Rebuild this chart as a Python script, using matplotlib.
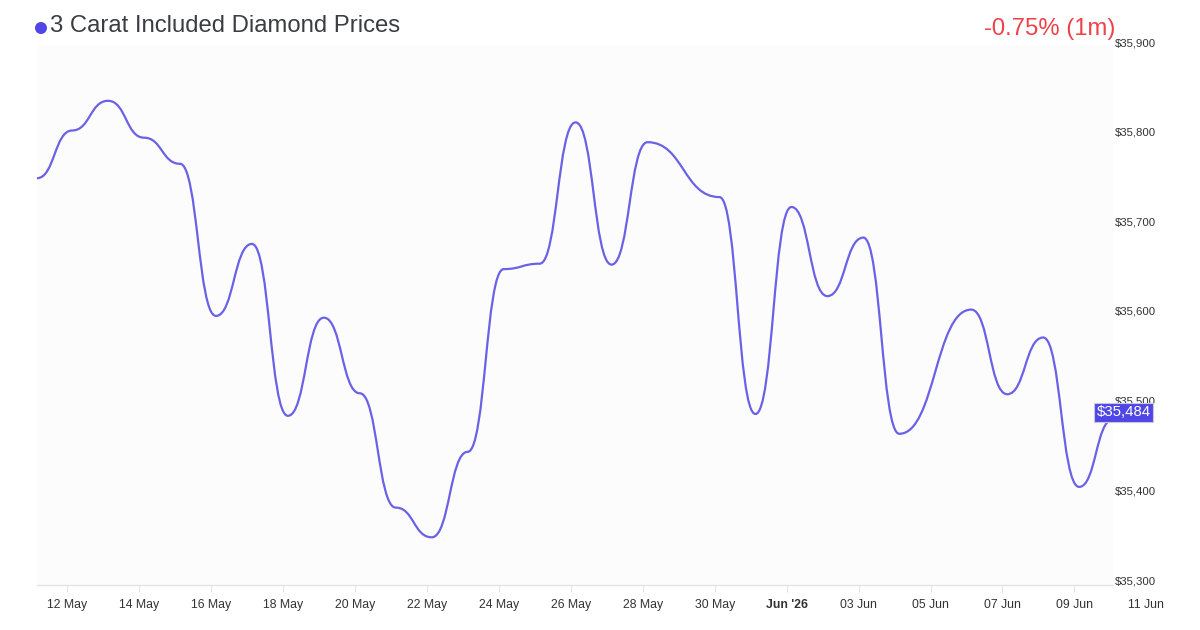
import numpy as np
import pandas as pd
import matplotlib
matplotlib.use("Agg")
import matplotlib.pyplot as plt
import matplotlib.dates as mdates
from matplotlib.path import Path
from matplotlib.patches import PathPatch, Ellipse

plt.rcParams['font.family'] = ['Liberation Sans', 'DejaVu Sans']

# ---- data ----
title = "3 Carat Included Diamond Prices"
change_text = "-0.75% (1m)"
dates = ["2026-05-11 03:45", "2026-05-12 03:10", "2026-05-13 03:10", "2026-05-14 03:10",
         "2026-05-15 03:10", "2026-05-16 03:10", "2026-05-17 03:10", "2026-05-18 03:10",
         "2026-05-19 03:10", "2026-05-20 03:10", "2026-05-21 03:10", "2026-05-22 03:10",
         "2026-05-23 03:10", "2026-05-24 03:10", "2026-05-25 03:10", "2026-05-26 03:10",
         "2026-05-27 03:10", "2026-05-28 03:10", "2026-05-30 03:10",
         "2026-05-31 03:10", "2026-06-01 03:10", "2026-06-02 03:10", "2026-06-03 03:10",
         "2026-06-04 03:10", "2026-06-06 03:10", "2026-06-07 03:10",
         "2026-06-08 03:10", "2026-06-09 03:10", "2026-06-10 01:40"]
prices = [35752, 35805, 35838, 35797, 35768, 35599, 35679, 35488, 35597, 35513,
          35386, 35353, 35448, 35651, 35657, 35814, 35656, 35792, 35731,
          35490, 35720, 35621, 35686, 35468, 35606, 35512, 35575, 35409,
          35484]
last_label = "$35,484"
y_ticks = [35300, 35400, 35500, 35600, 35700, 35800, 35900]
x_tick_dates = ["2026-05-12", "2026-05-14", "2026-05-16", "2026-05-18", "2026-05-20",
                "2026-05-22", "2026-05-24", "2026-05-26", "2026-05-28", "2026-05-30",
                "2026-06-01", "2026-06-03", "2026-06-05", "2026-06-07", "2026-06-09",
                "2026-06-11"]
x_tick_labels = ["12 May", "14 May", "16 May", "18 May", "20 May", "22 May", "24 May",
                 "26 May", "28 May", "30 May", "Jun '26", "03 Jun", "05 Jun", "07 Jun",
                 "09 Jun", "11 Jun"]

LINE = "#6a62e6"
DOT = "#4f46e5"

fig = plt.figure(figsize=(12, 6.3), dpi=100)
W, H = 1200, 630
ax = fig.add_axes([37 / W, 1 - 585 / H, (1113 - 37) / W, 540 / H])
ax.set_facecolor("#fcfcfc")

x = mdates.date2num(pd.to_datetime(dates))
y = np.array(prices, dtype=float)

# bump-x style curve: horizontal tangent at every point
verts = [(x[0], y[0])]
codes = [Path.MOVETO]
for i in range(len(x) - 1):
    xm = (x[i] + x[i + 1]) / 2
    verts += [(xm, y[i]), (xm, y[i + 1]), (x[i + 1], y[i + 1])]
    codes += [Path.CURVE4] * 3
ax.add_patch(PathPatch(Path(verts, codes), facecolor="none", edgecolor=LINE, lw=1.6, capstyle="round"))

ax.set_xlim(x[0], x[-1] + 0.004)
ax.set_ylim(y_ticks[0], y_ticks[-1])

for s in ["top", "left", "right"]:
    ax.spines[s].set_visible(False)
ax.spines["bottom"].set_color("#e3e3e3")
ax.spines["bottom"].set_linewidth(1.0)

# x ticks
tick_nums = mdates.date2num(pd.to_datetime(x_tick_dates))
ax.set_xticks(tick_nums[:-1])
ax.set_xticklabels(x_tick_labels[:-1])
ax.tick_params(axis="x", length=5, color="#e3e3e3", pad=5, labelsize=8.8, labelcolor="#333333")
for lab in ax.get_xticklabels():
    if lab.get_text() == "Jun '26":
        lab.set_fontweight("bold")
ax.text(tick_nums[-1], -14 / 540, x_tick_labels[-1], transform=ax.get_xaxis_transform(),
        ha="center", va="top", fontsize=8.8, color="#333333", clip_on=False)

# y labels on right
ax.set_yticks([])
for v in y_ticks:
    ypix = 581 - (v - y_ticks[0]) / (y_ticks[-1] - y_ticks[0]) * 538
    ax.text(1.0 + 2 / 1076, (585 - ypix) / 540, f"${v:,}",
            transform=ax.transAxes, ha="left", va="center",
            fontsize=8.2, color="#333333", clip_on=False, zorder=3)

# last value label
ax.text(1.0 + (1123.5 - 1113) / 1076, y[-1] + 8, last_label, transform=ax.get_yaxis_transform(),
        ha="center", va="center", fontsize=10.8, color="white", clip_on=False, zorder=6,
        bbox=dict(boxstyle="square,pad=0.18", facecolor=DOT, edgecolor="#c6c6dc", linewidth=0.8))

# title
fig.text(50 / W, 1 - 26 / H, title, ha="left", va="center", fontsize=17.2, color="#3a3d42")
fig.patches.append(Ellipse((41 / W, 1 - 28 / H), 12 / W, 12 / H, transform=fig.transFigure,
                           facecolor=DOT, edgecolor="none"))
fig.text(1115 / W, 1 - 29 / H, change_text, ha="right", va="center", fontsize=17.2, color="#ec4349")

fig.savefig("out.png", dpi=100, facecolor="white")
